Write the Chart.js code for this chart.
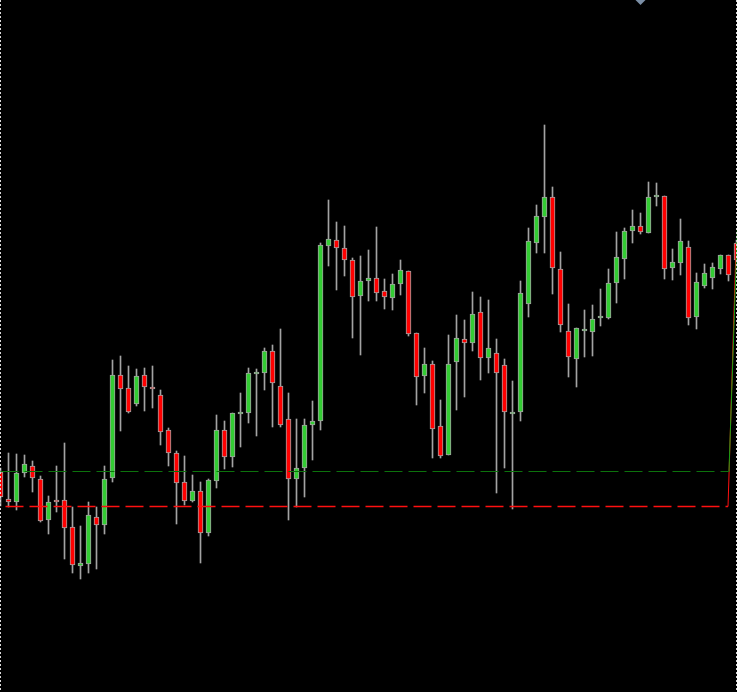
<!DOCTYPE html>
<html>
<head>
<meta charset="utf-8">
<script src="https://cdn.jsdelivr.net/npm/chart.js@4.4.1/dist/chart.umd.min.js"></script>
<style>
html,body{margin:0;padding:0;background:#000;overflow:hidden;}
#wrap{width:737px;height:692px;}
</style>
</head>
<body>
<div id="wrap"><canvas id="c" width="737" height="692"></canvas></div>
<script>
// Candle values (price points), one per bar, left to right
const openP  = [228,201,198,227,234,221,180,200,200,173,134,136,183,175,222,325,312,296,325,313,
                305,270,247,218,199,209,167,219,270,243,286,287,326,327,349,314,281,221,232,275,
                279,454,460,452,440,404,419,422,409,402,416,429,367,324,336,274,245,338,361,357,
                388,342,347,335,286,288,396,457,483,503,431,369,341,369,368,382,382,417,441,469,
                474,467,503,504,432,437,453,383,414,422,431,445,457];
const highP  = [232,247,246,245,239,224,204,234,257,193,174,198,193,234,340,344,334,331,332,334,
                310,272,249,244,225,218,221,285,279,287,307,332,331,352,355,371,307,281,281,299,
                457,500,478,474,442,444,450,473,421,426,440,429,367,352,339,300,365,385,380,408,
                403,400,361,341,319,419,472,495,575,513,448,396,372,390,395,411,431,468,472,490,
                487,518,517,504,451,481,459,427,436,437,445,445,460];
const lowP   = [194,193,190,223,208,178,166,188,141,127,121,127,131,166,218,269,287,294,289,292,
                255,234,176,195,198,137,164,212,231,233,253,277,264,310,273,273,180,193,203,240,
                270,434,410,424,362,345,399,399,391,390,405,364,295,307,242,242,245,290,303,349,
                320,327,207,232,191,279,383,447,447,406,368,323,313,343,344,374,381,397,421,457,
                466,467,494,421,420,425,375,371,412,411,426,419,438];
const closeP = [203,198,227,236,222,179,198,198,172,135,137,185,175,221,325,311,288,324,313,311,
                268,247,217,199,209,167,220,270,243,287,288,327,328,349,317,275,221,232,275,279,
                455,461,452,440,403,419,422,407,403,416,430,366,323,336,271,244,336,362,357,386,
                342,352,327,288,288,407,459,484,503,432,375,343,372,371,381,384,417,443,469,474,
                468,503,505,431,438,459,382,418,427,433,445,425,440];

// Horizontal price levels (dashed) and their closing segments at the right edge
const greenLevel = 228.5;
const redLevel = 193.5;
const greenLevelX = [-1, 91.06];
const redLevelX = [-1, 90.94];
const greenTailX = [91.06, 92.1];
const greenTailY = [228.5, 470];
const redTailX = [90.94, 91.95];
const redTailY = [193.5, 455];
// marker at top of window
const markerX = [80];
const markerY = [700];

const GREEN = '#33cc33', RED = '#ff0000', GREY = '#a3a3a3';

const idx = openP.map((_, i) => i);
const bodies = idx.map(i => ({x: i, y: [openP[i], closeP[i]]}));
const wicks = idx.map(i => ({x: i, y: [lowP[i], highP[i]]}));
const bodyColors = idx.map(i => closeP[i] >= openP[i] ? GREEN : RED);

const frame = {
  id: 'frame',
  afterDraw(chart) {
    const ctx = chart.ctx;
    ctx.save();
    ctx.strokeStyle = '#d8d8d8';
    ctx.lineWidth = 1;
    ctx.setLineDash([2, 2]);
    ctx.beginPath();
    ctx.moveTo(0.5, 0); ctx.lineTo(0.5, chart.height);
    ctx.moveTo(chart.width - 0.5, 0); ctx.lineTo(chart.width - 0.5, chart.height);
    ctx.stroke();
    ctx.restore();
  }
};
const bg = {
  id: 'bg',
  beforeDraw(chart) {
    const ctx = chart.ctx;
    ctx.save();
    ctx.fillStyle = '#000';
    ctx.fillRect(0, 0, chart.width, chart.height);
    ctx.restore();
  }
};

new Chart(document.getElementById('c'), {
  type: 'bar',
  data: {
    datasets: [
      {
        type: 'line', order: 0,
        data: greenLevelX.map(x => ({x, y: greenLevel})),
        borderColor: '#0c720c', borderWidth: 1, borderDash: [18, 6], borderDashOffset: 16,
        pointRadius: 0, fill: false
      },
      {
        type: 'line', order: 0,
        data: redLevelX.map(x => ({x, y: redLevel})),
        borderColor: '#ff1010', borderWidth: 1.3, borderDash: [18, 6], borderDashOffset: 11,
        pointRadius: 0, fill: false
      },
      {
        type: 'line', order: 0,
        data: greenTailX.map((x, k) => ({x, y: greenTailY[k]})),
        borderColor: '#12a012', borderWidth: 1, pointRadius: 0, fill: false
      },
      {
        type: 'line', order: 0,
        data: redTailX.map((x, k) => ({x, y: redTailY[k]})),
        borderColor: '#ff1010', borderWidth: 1, pointRadius: 0, fill: false
      },
      {
        type: 'scatter', order: 0, clip: false,
        data: markerX.map((x, k) => ({x, y: markerY[k]})),
        pointStyle: 'rectRot', pointRadius: 5, backgroundColor: '#7b8fa6', borderWidth: 0
      },
      {
        order: 1, grouped: false,
        data: bodies,
        backgroundColor: bodyColors,
        borderColor: GREY, borderWidth: 1, borderSkipped: false,
        barThickness: 5
      },
      {
        order: 2, grouped: false,
        data: wicks,
        backgroundColor: GREY, borderWidth: 0,
        barThickness: 1
      }
    ]
  },
  options: {
    responsive: false,
    animation: false,
    devicePixelRatio: 1,
    layout: {padding: 0, autoPadding: false},
    plugins: {legend: {display: false}, tooltip: {enabled: false}},
    scales: {
      x: {type: 'linear', display: false, min: -0.0625, max: 92.0625, offset: false},
      y: {type: 'linear', display: false, min: 8, max: 700}
    }
  },
  plugins: [bg, frame]
});
</script>
</body>
</html>
